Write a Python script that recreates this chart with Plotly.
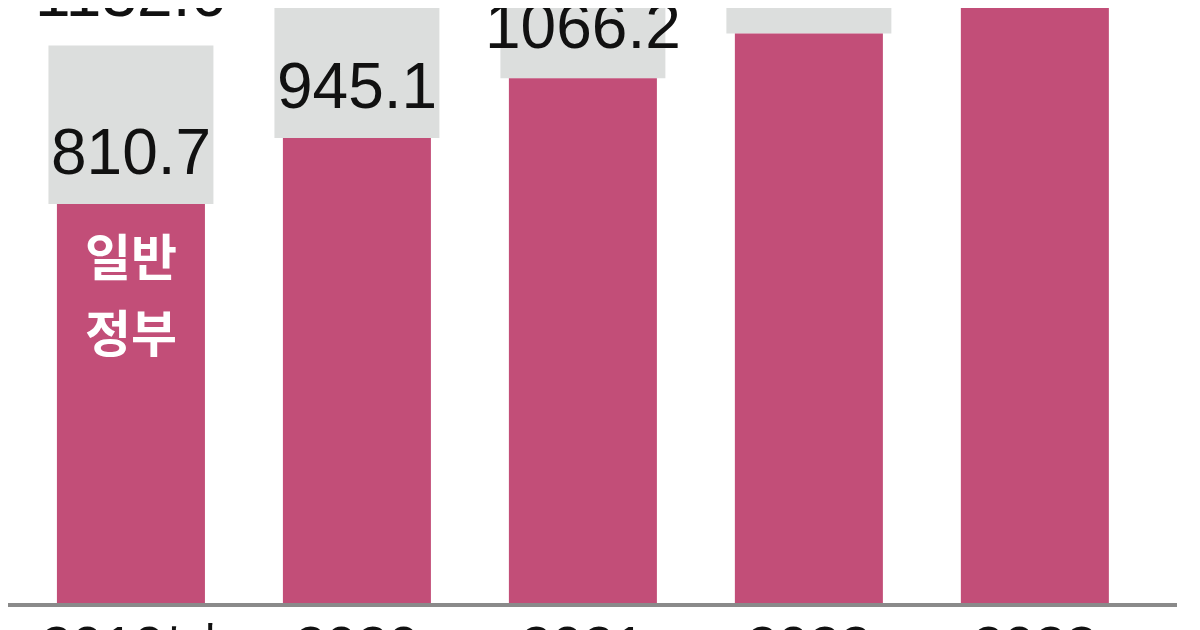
import plotly.graph_objects as go

# 연도별 부채 (조원)
years = ["2019년", "2020", "2021", "2022", "2023"]
general_gov = [810.7, 945.1, 1066.2, 1157.2, 1217.3]      # 일반정부 (D2)
public_sector = [1132.6, 1280.0, 1427.3, 1588.7, 1673.3]  # 공공부문 (D3)

pink = "#c24e78"
gray = "#dcdedd"
num_font = "Liberation Sans, Arial, sans-serif"

# gray part only sits on top of the pink part
extra = [t - g for t, g in zip(public_sector, general_gov)]

fig = go.Figure()

fig.add_trace(go.Bar(x=years, y=extra, base=general_gov, width=0.73,
                     marker=dict(color=gray, line_width=0), hoverinfo="skip"))
fig.add_trace(go.Bar(x=years, y=general_gov, width=0.655,
                     marker=dict(color=pink, line_width=0)))

# value labels sit just above each segment
# (category index used for x, "2020" etc. would be read as numbers)
for i, v in enumerate(general_gov):
    fig.add_annotation(x=i, y=v, text=f"{v:.1f}", showarrow=False,
                       yanchor="bottom", yshift=14,
                       font=dict(family=num_font, size=64, color="#111111"))
for i, v in enumerate(public_sector):
    fig.add_annotation(x=i, y=v, text=f"{v:.1f}", showarrow=False,
                       yanchor="bottom", yshift=14,
                       font=dict(family=num_font, size=64, color="#111111"))

# series name inside the first bar
fig.add_annotation(x=0, y=0.587, yref="paper", text="<b>일반</b>",
                   showarrow=False, font=dict(family="Noto Sans CJK KR", size=50, color="white"))
fig.add_annotation(x=0, y=0.459, yref="paper", text="<b>정부</b>",
                   showarrow=False, font=dict(family="Noto Sans CJK KR", size=50, color="white"))

fig.update_layout(
    width=1200, height=630,
    margin=dict(l=0, r=31, t=0, b=35),
    barmode="overlay",
    showlegend=False,
    plot_bgcolor="white",
    paper_bgcolor="white",
    xaxis=dict(type="category", range=[-0.544, 4.629], showline=True,
               linecolor="#8a8a8a", linewidth=4,
               ticks="", showgrid=False, zeroline=False, automargin=False,
               ticklabelstandoff=-9,
               tickfont=dict(family=num_font, size=56, color="#111111")),
    yaxis=dict(range=[0, 1209], visible=False, showgrid=False, zeroline=False,
               automargin=False),
)

fig.write_html("out.html")
